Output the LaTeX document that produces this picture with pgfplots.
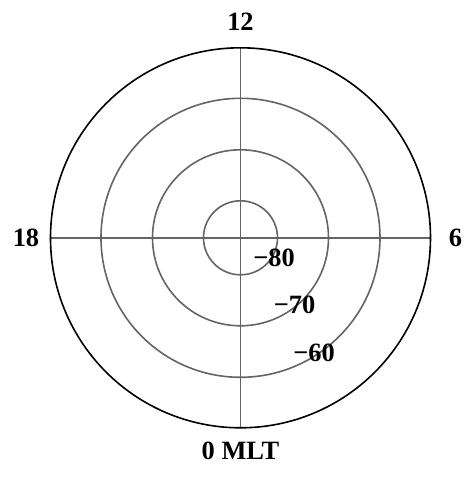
\documentclass[border=0pt]{standalone}
\usepackage{fontspec}
\setmainfont{Liberation Serif}
\usepackage{pgfplots}
\usepgfplotslibrary{polar}
\pgfplotsset{compat=1.18}
\definecolor{gridgray}{RGB}{100,100,100}
\begin{document}
\begin{tikzpicture}[lbl/.style={font=\fontsize{13.2}{15}\selectfont\bfseries, anchor=center, inner sep=0pt}]
\begin{polaraxis}[
  scale only axis,
  width=190pt, height=190pt,
  xmin=0, xmax=360,
  ymin=0, ymax=190,
  xtick={0,90,180,270},
  ytick={37,88,139.5},
  xticklabels={}, yticklabels={},
  major tick length=0pt,
  grid=major,
  major grid style={draw=gridgray, line width=0.8pt},
  axis line style={black, line width=0.8pt},
  y axis line style={draw=none},
  clip=false,
]
\addplot[draw=none] coordinates {(0,0)};
\coordinate (c) at (axis cs:0,0);
% MLT labels
\node[lbl] at (axis cs:90,216) {12};
\node[lbl] at (axis cs:0,215) {6};
\node[lbl] at (axis cs:180,214.5) {18};
\node[lbl] at (axis cs:270,213) {0 MLT};
% latitude labels
\node[lbl] at (axis cs:329.2,39) {−80};
\node[lbl] at (axis cs:308.9,86) {−70};
\node[lbl] at (axis cs:302.6,136.5) {−60};
\end{polaraxis}
\pgfresetboundingbox
\path[use as bounding box] ([shift={(-120.25pt,-119.6pt)}]c) rectangle ([shift={(116.75pt,118.9pt)}]c);
\end{tikzpicture}
\end{document}
